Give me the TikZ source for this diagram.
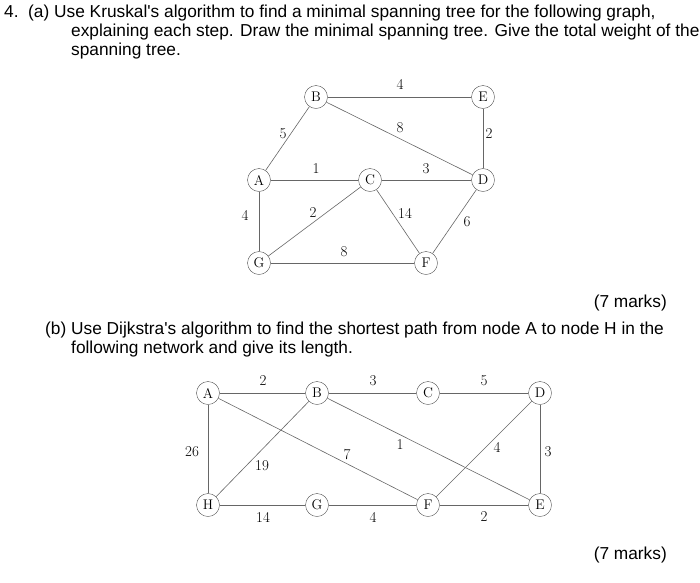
\documentclass[tikz,border=0pt]{standalone}
\usepackage{fontspec}
\newfontfamily\hdr{Liberation Sans}
\begin{document}
\begin{tikzpicture}[x=1pt,y=-1pt,
  vx/.style={draw=black!70,circle,minimum size=23pt,inner sep=0pt,font=\fontsize{14}{14}\selectfont},
  ed/.style={draw=black!60,line width=0.6pt},
  lb/.style={font=\fontsize{15}{15}\selectfont},
  tx/.style={font=\hdr\fontsize{17.3}{19}\selectfont,anchor=north west,align=left,inner sep=0pt}]
\useasboundingbox (0,0) rectangle (700,582);
\node[tx] (q) at (4,5) {4.\ \ (a) Use Kruskal's algorithm to find a minimal spanning tree for the following graph,};
\node[tx] (q2) at (71,24) {explaining each step. Draw the minimal spanning tree. Give the total weight of the\\spanning tree.};
% graph a
\node[vx] (B) at (316,97) {B};
\node[vx] (E) at (483,97) {E};
\node[vx] (A) at (259,180) {A};
\node[vx] (C) at (370,180) {C};
\node[vx] (D) at (483,180) {D};
\node[vx] (G) at (259,263) {G};
\node[vx] (F) at (426,263) {F};
\draw[ed] (B)--(E); \draw[ed] (B)--(D); \draw[ed] (E)--(D); \draw[ed] (A)--(B);
\draw[ed] (A)--(C); \draw[ed] (C)--(D); \draw[ed] (A)--(G); \draw[ed] (G)--(C);
\draw[ed] (C)--(F); \draw[ed] (D)--(F); \draw[ed] (G)--(F);
\node[lb] (l1) at (400,84) {4};
\node[lb] (l2) at (400,128) {8};
\node[lb] (l3) at (489,134) {2};
\node[lb] (l4) at (283,134) {5};
\node[lb] (l5) at (316,169) {1};
\node[lb] (l6) at (426,169) {3};
\node[lb] (l7) at (245,215) {4};
\node[lb] (l8) at (313,213) {2};
\node[lb] (l9) at (405,213) {14};
\node[lb] (l10) at (467,222) {6};
\node[lb] (l11) at (344,252) {8};
\node[tx,anchor=north east] (m1) at (667,295) {(7 marks)};
\node[tx] (p) at (45,322) {(b) Use Dijkstra's algorithm to find the shortest path from node A to node H in the};
\node[tx] (p2) at (71,341) {following network and give its length.};
% graph b
\node[vx] (bA) at (208,393) {A};
\node[vx] (bB) at (317,393) {B};
\node[vx] (bC) at (428,393) {C};
\node[vx] (bD) at (540,393) {D};
\node[vx] (bH) at (208,505) {H};
\node[vx] (bG) at (317,505) {G};
\node[vx] (bF) at (428,505) {F};
\node[vx] (bE) at (540,505) {E};
\draw[ed] (bA)--(bB); \draw[ed] (bB)--(bC); \draw[ed] (bC)--(bD);
\draw[ed] (bA)--(bH); \draw[ed] (bD)--(bE); \draw[ed] (bH)--(bG);
\draw[ed] (bG)--(bF); \draw[ed] (bF)--(bE); \draw[ed] (bA)--(bF);
\draw[ed] (bB)--(bH); \draw[ed] (bB)--(bE); \draw[ed] (bD)--(bF);
\node[lb] (m2) at (263,381) {2};
\node[lb] (m3) at (373,381) {3};
\node[lb] (m4) at (484,381) {5};
\node[lb] (m5) at (192,452) {26};
\node[lb] (m6) at (548,452) {3};
\node[lb] (m7) at (263,517) {14};
\node[lb] (m8) at (373,517) {4};
\node[lb] (m9) at (484,517) {2};
\node[lb] (m10) at (347,455) {7};
\node[lb] (m11) at (262,466) {19};
\node[lb] (m12) at (400,445) {1};
\node[lb] (m13) at (497,447) {4};
\node[tx,anchor=north east] (m14) at (667,547) {(7 marks)};
\end{tikzpicture}
\end{document}
